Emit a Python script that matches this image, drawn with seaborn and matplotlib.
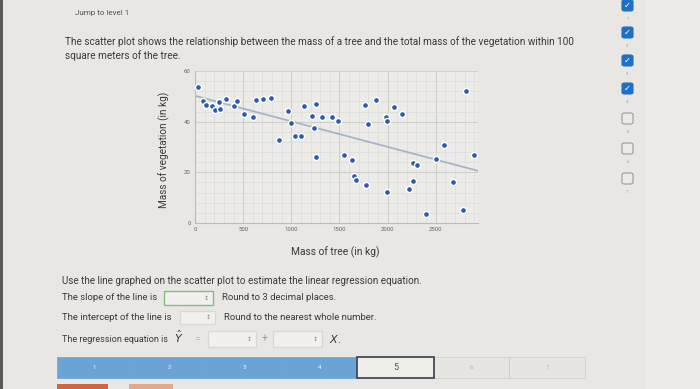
import numpy as np
import pandas as pd
import matplotlib
matplotlib.use("Agg")
import matplotlib.pyplot as plt
import seaborn as sns
from matplotlib.patches import Rectangle, FancyBboxPatch

# ---------------- data ----------------
tree_mass = [35, 86, 114, 176, 211, 246, 256, 322, 408, 432, 505, 598, 633, 702, 785,
             875, 961, 996, 1041, 1103, 1134, 1217, 1238, 1255, 1255, 1324, 1421, 1483,
             1546, 1629, 1650, 1677, 1770, 1774, 1795, 1885, 1981, 1999, 1999, 2064, 2147,
             2224, 2262, 2268, 2303, 2403, 2500, 2590, 2683, 2780, 2818, 2894]
veg_mass = [53.8, 48.3, 46.5, 46.0, 44.6, 47.9, 45.0, 48.8, 46.0, 48.2, 42.9, 41.9, 48.7,
            48.8, 49.4, 32.6, 44.2, 39.4, 34.4, 34.4, 46.3, 42.4, 37.4, 46.9, 26.0, 42.0,
            41.9, 40.2, 27.0, 24.8, 18.5, 16.8, 46.7, 15.0, 39.1, 48.7, 41.8, 40.2, 12.3,
            45.6, 43.2, 13.3, 23.5, 16.4, 22.8, 3.4, 25.3, 30.6, 16.1, 5.0, 52.3, 26.7]
line_x = [0, 2940]
line_y = [50.2, 20.6]
x_ticks = [0, 500, 1000, 1500, 2000, 2500]
y_ticks = [0, 20, 40, 60]
progress_labels = ["1", "2", "3", "4", "5", "6", "7"]

df = pd.DataFrame({"tree": tree_mass, "veg": veg_mass})
line_df = pd.DataFrame({"x": line_x, "y": line_y})

# ---------------- figure ----------------
sns.set_theme(style="white")
plt.rcParams["font.family"] = ["Roboto", "DejaVu Sans"]
W, H = 700, 389
BG = "#e8e7e3"
fig = plt.figure(figsize=(7.0, 3.89), dpi=100, facecolor=BG)

def fx(x):
    return x / W

def fy(y):
    return 1 - y / H

TXT = "#3a3a3a"
FS = 7.2
FS2 = 6.8
# page texts
fig.text(fx(75), fy(13), "Jump to level 1", fontsize=5.8, color="#555555", va="center")
fig.text(fx(65), fy(42), "The scatter plot shows the relationship between the mass of a tree and the total mass of the vegetation within 100",
         fontsize=FS, color=TXT, va="center")
fig.text(fx(65), fy(56), "square meters of the tree.", fontsize=FS, color=TXT, va="center")

# ---------------- scatter axes ----------------
ax = fig.add_axes([fx(195), fy(223), fx(478) - fx(195), fy(71) - fy(223)])
ax.set_facecolor("#ecebe8")
sns.lineplot(data=line_df, x="x", y="y", ax=ax, color="#a9b4c9", linewidth=1.3, zorder=2)
sns.scatterplot(data=df, x="tree", y="veg", ax=ax, color="#2d5bb0", s=19,
                edgecolor="white", linewidth=1.0, zorder=3)
ax.set_xlim(0, 2940)
ax.set_ylim(0, 60)
ax.set_xticks(x_ticks)
ax.set_yticks(y_ticks)
ax.set_xticks(np.arange(0, 2941, 100), minor=True)
ax.set_yticks(np.arange(0, 61, 4), minor=True)
ax.grid(True, which="major", color="#cfcfcc", linewidth=0.8)
ax.grid(True, which="minor", color="#dcdcd9", linewidth=0.5)
ax.set_axisbelow(True)
ax.tick_params(axis="both", which="both", length=0, labelsize=4.3, colors="#666666", pad=3)
for s in ["top", "right"]:
    ax.spines[s].set_visible(False)
for s in ["left", "bottom"]:
    ax.spines[s].set_color("#bdbdba")
    ax.spines[s].set_linewidth(0.8)
ax.set_xlabel("")
ax.set_ylabel("")
fig.text(fx(335), fy(252), "Mass of tree (in kg)", fontsize=7.4, color=TXT, ha="center", va="center")
fig.text(fx(164), fy(150), "Mass of vegetation (in kg)", fontsize=7.2, color=TXT, ha="center",
         va="center", rotation=90)

# ---------------- question text ----------------
fig.text(fx(62), fy(281), "Use the line graphed on the scatter plot to estimate the linear regression equation.",
         fontsize=7.1, color=TXT, va="center")
fig.text(fx(62), fy(298), "The slope of the line is", fontsize=FS2, color=TXT, va="center")
fig.text(fx(222), fy(298), "Round to 3 decimal places.", fontsize=FS2, color=TXT, va="center")
fig.text(fx(62), fy(317), "The intercept of the line is", fontsize=FS2, color=TXT, va="center")
fig.text(fx(224), fy(317), "Round to the nearest whole number.", fontsize=FS2, color=TXT, va="center")
fig.text(fx(62), fy(339), "The regression equation is", fontsize=6.5, color=TXT, va="center")
fig.text(fx(174), fy(337), r"$\hat{Y}$", fontsize=8, color=TXT, va="center")
fig.text(fx(194), fy(339), "=", fontsize=7.5, color="#bbbbbb", va="center")
fig.text(fx(262), fy(339), "+", fontsize=7.5, color="#999999", va="center")
fig.text(fx(329), fy(339), r"$X$.", fontsize=8, color=TXT, va="center")

def input_box(x0, x1, y0, y1, edge):
    fig.patches.append(Rectangle((fx(x0), fy(y1)), fx(x1) - fx(x0), fy(y0) - fy(y1),
                                 transform=fig.transFigure, facecolor="#f1f0ed",
                                 edgecolor=edge, linewidth=1.0))
    fig.text(fx(x1 - 7), fy((y0 + y1) / 2), "\u2195", fontsize=4.5, color="#888888",
             ha="center", va="center", family=["DejaVu Sans"])

input_box(164, 213, 291, 305, "#7fbf7f")
input_box(180, 215, 311, 324, "#d8d8d5")
input_box(208, 256, 331, 347, "#d8d8d5")
input_box(273, 322, 331, 347, "#d8d8d5")

# ---------------- progress bar ----------------
seg_edges = [57, 132, 207, 282, 357, 434, 509, 585]
for i, lab in enumerate(progress_labels):
    x0, x1 = seg_edges[i], seg_edges[i + 1]
    if i < 4:
        fc, ec, lw, tc = "#6aa3d6", "#6aa3d6", 0.5, "#e8f0f8"
    elif i == 4:
        fc, ec, lw, tc = "#efeeeb", "#444a55", 1.3, "#555555"
    else:
        fc, ec, lw, tc = "#e6e5e1", "#cfcfcc", 0.6, "#b5b5b2"
    fig.patches.append(Rectangle((fx(x0), fy(378)), fx(x1) - fx(x0), fy(357) - fy(378),
                                 transform=fig.transFigure, facecolor=fc, edgecolor=ec,
                                 linewidth=lw, zorder=2 if i == 4 else 1))
    fig.text(fx((x0 + x1) / 2), fy(367.5), lab, fontsize=4.5 if i != 4 else 6.5,
             color=tc, ha="center", va="center")
fig.patches.append(Rectangle((fx(57), fy(389)), fx(108) - fx(57), fy(384) - fy(389),
                             transform=fig.transFigure, facecolor="#d4663f", edgecolor="none"))
fig.patches.append(Rectangle((fx(129), fy(389)), fx(173) - fx(129), fy(384) - fy(389),
                             transform=fig.transFigure, facecolor="#e3a98a", edgecolor="none"))

# ---------------- side bar ----------------
fig.patches.append(Rectangle((fx(645), 0), fx(700) - fx(645), 1, transform=fig.transFigure,
                             facecolor="#ecebe7", edgecolor="none"))
fig.patches.append(Rectangle((0, 0), fx(3), 1, transform=fig.transFigure,
                             facecolor="#5a5955", edgecolor="none"))
box_tops = [0, 27, 55, 83, 113, 143, 173]
for i, top in enumerate(box_tops):
    checked = i < 4
    fig.patches.append(FancyBboxPatch((fx(622), fy(top + 11)), fx(11), fy(0) - fy(11),
                                      boxstyle="round,pad=0,rounding_size=0.004",
                                      transform=fig.transFigure,
                                      facecolor="#1f6fc2" if checked else "#ecebe7",
                                      edgecolor="#1f6fc2" if checked else "#9a9a98",
                                      linewidth=0.8))
    if checked:
        fig.text(fx(627.5), fy(top + 5.5), "\u2713", fontsize=6, color="white",
                 ha="center", va="center", family=["DejaVu Sans"], weight="bold")
    fig.text(fx(627.5), fy(top + 19), str(i + 1), fontsize=3, color="#999999",
             ha="center", va="center")

fig.savefig("out.png", dpi=100, facecolor=BG)
